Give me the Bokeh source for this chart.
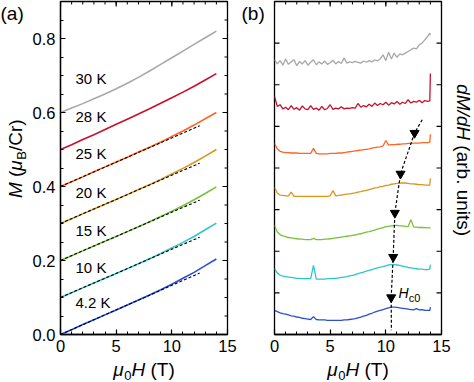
import math
from bokeh.plotting import figure
from bokeh.models import Range1d, FixedTicker, LinearAxis, Label, PrintfTickFormatter
from bokeh.layouts import row, column
from bokeh.embed import file_html
from bokeh.resources import INLINE

FONT = "Liberation Sans"

# ---------------- Panel (a): M(H) ----------------
H_A = [0, 1, 2, 3, 4, 5, 6, 7, 8, 9, 10, 11, 12, 13, 14]
M_30K = [0.600, 0.612, 0.624, 0.637, 0.650, 0.664, 0.679, 0.695, 0.712, 0.730, 0.748, 0.766, 0.784, 0.802, 0.820]
M_28K = [0.500, 0.513, 0.527, 0.540, 0.554, 0.568, 0.582, 0.596, 0.610, 0.625, 0.640, 0.655, 0.671, 0.688, 0.705]
M_25K = [0.400, 0.413, 0.426, 0.440, 0.453, 0.466, 0.479, 0.493, 0.506, 0.520, 0.535, 0.550, 0.566, 0.583, 0.600]
M_20K = [0.300, 0.313, 0.326, 0.339, 0.352, 0.365, 0.378, 0.392, 0.405, 0.419, 0.434, 0.449, 0.465, 0.482, 0.500]
M_15K = [0.200, 0.213, 0.226, 0.239, 0.252, 0.265, 0.278, 0.291, 0.305, 0.319, 0.333, 0.348, 0.364, 0.381, 0.399]
M_10K = [0.100, 0.113, 0.126, 0.139, 0.152, 0.165, 0.178, 0.191, 0.205, 0.219, 0.234, 0.249, 0.265, 0.283, 0.301]
M_4K = [0.000, 0.013, 0.027, 0.040, 0.053, 0.066, 0.080, 0.093, 0.107, 0.121, 0.136, 0.152, 0.168, 0.186, 0.204]

FIT_H = [0.0, 12.5]
FIT_25K = [0.400, 0.564]
FIT_20K = [0.300, 0.463]
FIT_15K = [0.200, 0.363]
FIT_10K = [0.100, 0.263]
FIT_4K = [0.000, 0.166]

TEMP_LABELS = ["30 K", "28 K", "25 K", "20 K", "15 K", "10 K", "4.2 K"]
TEMP_LABEL_Y = [0.691, 0.589, 0.489, 0.385, 0.282, 0.182, 0.087]
COLORS = ["#a8a8a8", "#c8102e", "#ff6424", "#d8961c", "#78c23a", "#2ec6c8", "#2a4ed6"]

X_TICKS = [0, 5, 10, 15]
X_MINOR = [0, 1, 2, 3, 4, 5, 6, 7, 8, 9, 10, 11, 12, 13, 14, 15]
M_TICKS = [0.0, 0.2, 0.4, 0.6, 0.8]
M_MINOR = [0.0, 0.05, 0.1, 0.15, 0.2, 0.25, 0.3, 0.35, 0.4, 0.45, 0.5, 0.55, 0.6, 0.65, 0.7, 0.75, 0.8, 0.85, 0.9]

# ---------------- Panel (b): dM/dH ----------------
H_B = [0.0, 0.25, 0.5, 0.75, 1.0, 1.25, 1.5, 1.75, 2.0, 2.25, 2.5, 2.75, 3.0, 3.25, 3.5, 3.75,
       4.0, 4.25, 4.5, 4.75, 5.0, 5.25, 5.5, 5.75, 6.0, 6.25, 6.5, 6.75, 7.0, 7.25, 7.5, 7.75,
       8.0, 8.25, 8.5, 8.75, 9.0, 9.25, 9.5, 9.75, 10.0, 10.25, 10.5, 10.75, 11.0, 11.25, 11.5, 11.75,
       12.0, 12.25, 12.5, 12.75, 13.0, 13.25, 13.5, 13.75, 13.95, 14.0]
D_30K = [6.60, 6.50, 6.58, 6.47, 6.62, 6.49, 6.55, 6.60, 6.46, 6.56, 6.50, 6.58, 6.47, 6.54, 6.60, 6.48,
         6.55, 6.50, 6.57, 6.49, 6.53, 6.59, 6.50, 6.56, 6.51, 6.64, 6.52, 6.55, 6.53, 6.56, 6.54, 6.52,
         6.57, 6.54, 6.58, 6.55, 6.60, 6.57, 6.62, 6.72, 6.58, 6.78, 6.62, 6.76, 6.66, 6.74, 6.72, 6.76,
         6.80, 6.84, 6.88, 6.86, 6.96, 7.00, 7.08, 7.16, 7.24, 7.19]
D_28K = [5.72, 5.48, 5.52, 5.42, 5.46, 5.40, 5.50, 5.41, 5.45, 5.39, 5.49, 5.42, 5.40, 5.50, 5.41, 5.44,
         5.39, 5.48, 5.40, 5.43, 5.52, 5.41, 5.44, 5.42, 5.47, 5.42, 5.44, 5.43, 5.45, 5.44, 5.55, 5.46,
         5.50, 5.47, 5.53, 5.48, 5.56, 5.50, 5.55, 5.52, 5.58, 5.51, 5.57, 5.54, 5.60, 5.53, 5.58, 5.55,
         5.64, 5.56, 5.60, 5.58, 5.63, 5.57, 5.62, 5.60, 5.61, 6.27]
D_25K = [4.59, 4.46, 4.40, 4.38, 4.37, 4.37, 4.36, 4.36, 4.36, 4.35, 4.35, 4.35, 4.35, 4.35, 4.47, 4.35,
         4.34, 4.34, 4.34, 4.34, 4.35, 4.35, 4.35, 4.36, 4.36, 4.37, 4.38, 4.39, 4.40, 4.41, 4.42, 4.43,
         4.44, 4.45, 4.46, 4.48, 4.49, 4.50, 4.51, 4.53, 4.66, 4.55, 4.56, 4.56, 4.57, 4.57, 4.58, 4.58,
         4.59, 4.59, 4.60, 4.60, 4.60, 4.61, 4.61, 4.61, 4.62, 4.81]
D_20K = [3.53, 3.40, 3.35, 3.34, 3.33, 3.33, 3.42, 3.32, 3.32, 3.32, 3.32, 3.32, 3.32, 3.32, 3.32, 3.32,
         3.32, 3.32, 3.32, 3.32, 3.33, 3.46, 3.33, 3.34, 3.35, 3.36, 3.37, 3.38, 3.39, 3.40, 3.42, 3.43,
         3.45, 3.46, 3.48, 3.50, 3.52, 3.53, 3.55, 3.56, 3.58, 3.59, 3.61, 3.62, 3.63, 3.64, 3.64, 3.64,
         3.63, 3.62, 3.62, 3.61, 3.60, 3.60, 3.59, 3.59, 3.59, 3.75]
D_15K = [2.62, 2.46, 2.40, 2.37, 2.35, 2.33, 2.32, 2.31, 2.30, 2.29, 2.29, 2.28, 2.28, 2.28, 2.31, 2.28,
         2.28, 2.28, 2.29, 2.29, 2.30, 2.31, 2.32, 2.33, 2.34, 2.35, 2.36, 2.37, 2.38, 2.39, 2.41, 2.42,
         2.44, 2.46, 2.47, 2.49, 2.51, 2.53, 2.55, 2.57, 2.59, 2.60, 2.61, 2.62, 2.62, 2.61, 2.61, 2.60,
         2.59, 2.76, 2.58, 2.58, 2.57, 2.57, 2.57, 2.56, 2.56, 2.58]
D_10K = [1.58, 1.48, 1.43, 1.40, 1.39, 1.38, 1.37, 1.36, 1.35, 1.35, 1.34, 1.34, 1.34, 1.34, 1.66, 1.33,
         1.33, 1.33, 1.33, 1.34, 1.34, 1.35, 1.35, 1.36, 1.37, 1.38, 1.39, 1.41, 1.42, 1.44, 1.46, 1.48,
         1.50, 1.52, 1.54, 1.56, 1.58, 1.60, 1.62, 1.63, 1.65, 1.67, 1.68, 1.68, 1.67, 1.66, 1.64, 1.63,
         1.61, 1.60, 1.59, 1.58, 1.57, 1.57, 1.56, 1.56, 1.57, 1.68]
D_4K = [0.58, 0.55, 0.52, 0.50, 0.49, 0.47, 0.45, 0.44, 0.42, 0.41, 0.39, 0.38, 0.37, 0.36, 0.43, 0.36,
        0.35, 0.35, 0.35, 0.34, 0.34, 0.34, 0.34, 0.34, 0.34, 0.35, 0.35, 0.36, 0.37, 0.38, 0.40, 0.42,
        0.44, 0.46, 0.49, 0.51, 0.54, 0.56, 0.58, 0.60, 0.62, 0.64, 0.66, 0.66, 0.65, 0.64, 0.63, 0.62,
        0.61, 0.60, 0.59, 0.62, 0.59, 0.60, 0.58, 0.58, 0.58, 0.66]

HC_LINE_H = [13.27, 12.58, 11.32, 10.81, 10.66, 10.48, 10.50]
HC_LINE_Y = [5.16, 4.84, 3.86, 2.92, 1.86, 0.89, 0.10]
HC_ARROW_H = [12.58, 11.32, 10.81, 10.66, 10.48]
HC_ARROW_Y = [4.84, 3.86, 2.92, 1.86, 0.89]
B_TICKS = [1, 2, 3, 4, 5, 6, 7]

# Arial / Liberation Sans advance widths (em)
CW = {'μ': 0.576, '0': 0.556, 'H': 0.722, ' ': 0.278, '(': 0.333, 'T': 0.611, ')': 0.333,
      'M': 0.833, 'B': 0.667, '/': 0.278, 'C': 0.722, 'r': 0.333, 'd': 0.556, 'a': 0.556,
      'b': 0.556, '.': 0.278, 'u': 0.556, 'n': 0.556, 'i': 0.222, 't': 0.278, 's': 0.5, 'c': 0.5}
MID = 0.35  # distance from baseline to the 'middle' anchor, in em


def tw(s, size):
    return sum(CW.get(ch, 0.556) for ch in s) * size


def rich(p, x, y, pieces, angle=0.0, align="center"):
    """pieces: (text, size, style, subscript drop); (x, y) is on the baseline."""
    total = sum(tw(t, s) for t, s, _, _ in pieces)
    a = -total / 2 if align == "center" else 0.0
    c, sn = math.cos(angle), math.sin(angle)
    for t, s, style, d in pieces:
        lead = len(t) - len(t.lstrip(" "))
        a0 = a + tw(" " * lead, s)
        h = MID * s - d   # shift along the text's up direction
        xo = a0 * c - h * sn
        yo = a0 * sn + h * c
        p.add_layout(Label(x=x, y=y, x_offset=xo, y_offset=yo, text=t.strip(" "), angle=angle,
                           text_font=FONT, text_font_size=f"{s}px", text_font_style=style,
                           text_color="black", text_align="left", text_baseline="middle"))
        a += tw(t, s)


def style_axis(ax, ticks, minor, fmt=None):
    ax.ticker = FixedTicker(ticks=ticks, minor_ticks=minor)
    ax.major_tick_in = 5
    ax.major_tick_out = 0
    ax.minor_tick_in = 3
    ax.minor_tick_out = 0
    ax.axis_line_color = "black"
    ax.axis_line_width = 1.3
    ax.major_tick_line_width = 1.2
    ax.minor_tick_line_width = 1.0
    ax.axis_label = None
    ax.major_label_text_font = FONT
    ax.major_label_text_font_size = "16.5px"
    ax.major_label_text_color = "black"
    ax.major_label_standoff = 5
    if fmt is not None:
        ax.formatter = fmt


def blank(w, h):
    f = figure(width=w, height=h, x_range=Range1d(0, w), y_range=Range1d(0, h),
               min_border=0, output_backend="svg", toolbar_location=None,
               x_axis_location=None, y_axis_location=None)
    f.outline_line_color = None
    f.grid.visible = False
    return f


def mirror_ticks(p, xs_major, xs_minor, y_edge, ys_major, ys_minor, x_edge):
    # ticks on the top and side frame edges; the outer half of each dash is clipped by the frame
    p.scatter(xs_minor, [y_edge] * len(xs_minor), marker="dash", angle=math.pi / 2, size=6,
              line_color="black", line_width=1.0)
    p.scatter(xs_major, [y_edge] * len(xs_major), marker="dash", angle=math.pi / 2, size=10,
              line_color="black", line_width=1.2)
    for xe in x_edge:
        if ys_minor:
            p.scatter([xe] * len(ys_minor), ys_minor, marker="dash", size=6,
                      line_color="black", line_width=1.0)
        p.scatter([xe] * len(ys_major), ys_major, marker="dash", size=10,
                  line_color="black", line_width=1.2)


AXIS_FS = 19
SUB_FS = 13
ROW_H = 360

# ---------------- figure (a) ----------------
pa = figure(width=209, height=ROW_H, x_range=Range1d(0, 15), y_range=Range1d(0, 0.9),
            min_border_left=32, min_border_right=10, min_border_top=1, min_border_bottom=26,
            output_backend="svg", toolbar_location=None, x_axis_location=None, y_axis_location=None)
pa.grid.visible = False
pa.outline_line_color = "black"
pa.outline_line_width = 1.3

ax_b = LinearAxis(); style_axis(ax_b, X_TICKS, X_MINOR); pa.add_layout(ax_b, "below")
ax_l = LinearAxis(); style_axis(ax_l, M_TICKS, M_MINOR, PrintfTickFormatter(format="%.1f")); pa.add_layout(ax_l, "left")

curves_a = [M_30K, M_28K, M_25K, M_20K, M_15K, M_10K, M_4K]
for m, col in zip(curves_a, COLORS):
    pa.line(H_A, m, line_color=col, line_width=1.6)
for f in [FIT_25K, FIT_20K, FIT_15K, FIT_10K, FIT_4K]:
    pa.line(FIT_H, f, line_color="black", line_width=1.1, line_dash="3 2")
mirror_ticks(pa, X_TICKS, X_MINOR, 0.9, M_TICKS, M_MINOR, [15])
for lab, yy in zip(TEMP_LABELS, TEMP_LABEL_Y):
    pa.add_layout(Label(x=1.35, y=yy, text=lab, text_font=FONT, text_font_size="15px",
                        text_color="black", text_align="left", text_baseline="middle"))

# ---------------- figure (b) ----------------
pb = figure(width=185, height=ROW_H, x_range=Range1d(0, 15), y_range=Range1d(0, 8),
            min_border_left=8, min_border_right=10, min_border_top=1, min_border_bottom=26,
            output_backend="svg", toolbar_location=None, x_axis_location=None, y_axis_location=None)
pb.grid.visible = False
pb.outline_line_color = "black"
pb.outline_line_width = 1.3

bx_b = LinearAxis(); style_axis(bx_b, X_TICKS, X_MINOR); pb.add_layout(bx_b, "below")

curves_b = [D_30K, D_28K, D_25K, D_20K, D_15K, D_10K, D_4K]
for d, col in zip(curves_b, COLORS):
    pb.line(H_B, d, line_color=col, line_width=1.3)
pb.line(HC_LINE_H, HC_LINE_Y, line_color="black", line_width=1.2, line_dash="3 2")
pb.scatter(HC_ARROW_H, HC_ARROW_Y, marker="inverted_triangle", size=9,
           fill_color="black", line_color="black")
mirror_ticks(pb, X_TICKS, X_MINOR, 8, B_TICKS, [], [0, 15])
rich(pb, 11.14, 0.872, [("H", 14, "italic", 0), ("c0", 11, "normal", 3.5)], align="left")

# ---------------- label strips (plain pixel frames) ----------------
pl = blank(28, ROW_H)
pl.add_layout(Label(x=0, y=ROW_H - 13, text="(a)", text_font=FONT, text_font_size="19px",
                    text_color="black", text_align="left", text_baseline="middle"))
rich(pl, 21.7, ROW_H - 170, [("M", AXIS_FS, "italic", 0), (" (", AXIS_FS, "normal", 0),
                             ("μ", AXIS_FS, "italic", 0), ("B", SUB_FS, "normal", 4),
                             ("/Cr)", AXIS_FS, "normal", 0)], angle=math.pi / 2)

pm = blank(29, ROW_H)
pm.add_layout(Label(x=4, y=ROW_H - 13, text="(b)", text_font=FONT, text_font_size="19px",
                    text_color="black", text_align="left", text_baseline="middle"))

pr = blank(23, ROW_H)
rich(pr, 5.0, ROW_H - 171.5, [("dM/dH", AXIS_FS, "italic", 0), (" (arb. units)", AXIS_FS, "normal", 0)],
     angle=-math.pi / 2)

BOT_H = 22
pbot = blank(474, BOT_H)
for cx in [143.5, 357.5]:
    rich(pbot, cx, 6, [("μ", AXIS_FS, "italic", 0), ("0", SUB_FS, "normal", 4),
                       ("H", AXIS_FS, "italic", 0), (" (T)", AXIS_FS, "normal", 0)])

layout = column(row(pl, pa, pm, pb, pr), pbot)
open("out.html", "w").write(file_html(layout, INLINE))
